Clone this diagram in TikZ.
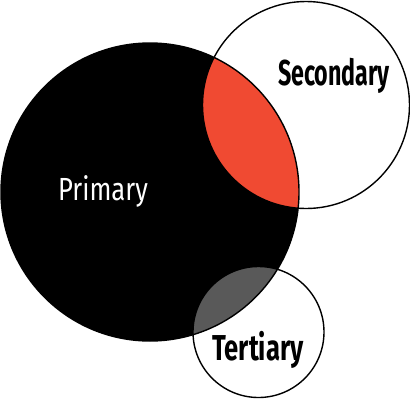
\documentclass[tikz,border=0pt]{standalone}
\usepackage{fontspec}
\newfontfamily\primfont{Fira Sans}[FakeStretch=0.8]
\newfontfamily\secfont{Fira Sans}[FakeStretch=0.645]
\newfontfamily\terfont{Fira Sans}[FakeStretch=0.71]
\definecolor{rojo}{HTML}{F04A32}
\definecolor{gris}{HTML}{595959}
\begin{document}
\begin{tikzpicture}[x=1pt, y=-1pt,
  rim/.style={draw=black, line width=1.4pt},
  tag/.style={anchor=base, inner sep=0pt}
]
\useasboundingbox (0,0) rectangle (410,400);
\coordinate (prim) at (150,192);
\coordinate (sec) at (306,105);
\coordinate (ter) at (258.5,332);
% primary disc
\fill[black] (prim) circle (149pt);
% overlaps
\begin{scope}
  \clip (prim) circle (149pt);
  \fill[rojo] (sec) circle (103.5pt);
  \fill[gris] (ter) circle (65.5pt);
\end{scope}
\draw[rim] (sec) circle (103.5pt);
\draw[rim] (ter) circle (65.5pt);
\draw[rim] (prim) circle (149pt);
% labels
\node[tag, text=white, font=\primfont\fontsize{32}{32}\selectfont] (primlabel) at (103,200) {Primary};
\node[tag, font=\secfont\fontsize{36}{36}\selectfont\bfseries] (seclabel) at (334,85) {Secondary};
\node[tag, font=\terfont\fontsize{36}{36}\selectfont\bfseries] (terlabel) at (258,360) {Tertiary};
\end{tikzpicture}
\end{document}
